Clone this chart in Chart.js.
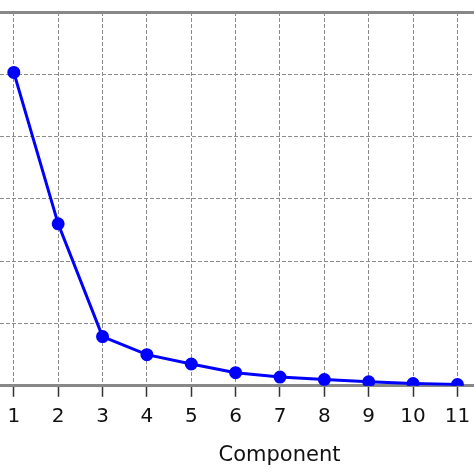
<!DOCTYPE html>
<html>
<head>
<meta charset="utf-8">
<script src="https://cdn.jsdelivr.net/npm/chart.js@4"></script>
<style>
  html, body { margin:0; padding:0; background:#fff; overflow:hidden; }
  #wrap { width:575px; height:474px; position:relative; left:-8px; }
</style>
</head>
<body>
<div id="wrap"><canvas id="scree"></canvas></div>
<script>
// scree plot values
const components = [1, 2, 3, 4, 5, 6, 7, 8, 9, 10, 11];
const eigenvalues = [5.03, 2.60, 0.79, 0.50, 0.35, 0.21, 0.14, 0.10, 0.065, 0.035, 0.02];
const yTicks = [0, 1, 2, 3, 4, 5, 6];

const gridGray = "#8c8c8c";

new Chart(document.getElementById("scree"), {
  type: "line",
  data: {
    datasets: [{
      data: components.map((c, i) => ({ x: c, y: eigenvalues[i] })),
      borderColor: "#0000ff",
      backgroundColor: "#0000ff",
      borderWidth: 3,
      pointRadius: 5,
      pointHoverRadius: 5,
      tension: 0
    }]
  },
  options: {
    responsive: true,
    maintainAspectRatio: false,
    animation: false,
    layout: { padding: { top: 12, left: 0, right: 0, bottom: 0 } },
    plugins: { legend: { display: false }, tooltip: { enabled: false } },
    scales: {
      x: {
        type: "linear",
        min: 1 - 14 / 45,
        max: 1 - 14 / 45 + 567 / 45,
        afterBuildTicks: s => { s.ticks = components.map(v => ({ value: v })); },
        grid: {
          color: gridGray, lineWidth: 1,
          drawTicks: true, tickLength: 11, tickColor: "#333", tickWidth: 1.5
        },
        border: { display: true, color: "#888", width: 3, dash: [4, 2] },
        ticks: {
          color: "#111", padding: 8,
          font: { family: "DejaVu Sans", size: 20 }
        },
        title: {
          display: true, text: "Component", color: "#111",
          font: { family: "DejaVu Sans", size: 21 },
          padding: { top: 6, bottom: 6 }
        }
      },
      y: {
        min: 0, max: 6,
        afterBuildTicks: s => { s.ticks = yTicks.map(v => ({ value: v })); },
        grid: {
          drawTicks: false,
          color: c => c.tick && c.tick.value === 6 ? "#888" : gridGray,
          lineWidth: c => c.tick && c.tick.value === 6 ? 3 : 1
        },
        border: { display: false, dash: c => c.tick && c.tick.value === 6 ? [] : [4, 2] },
        ticks: { display: false }
      }
    }
  }
});
</script>
</body>
</html>
